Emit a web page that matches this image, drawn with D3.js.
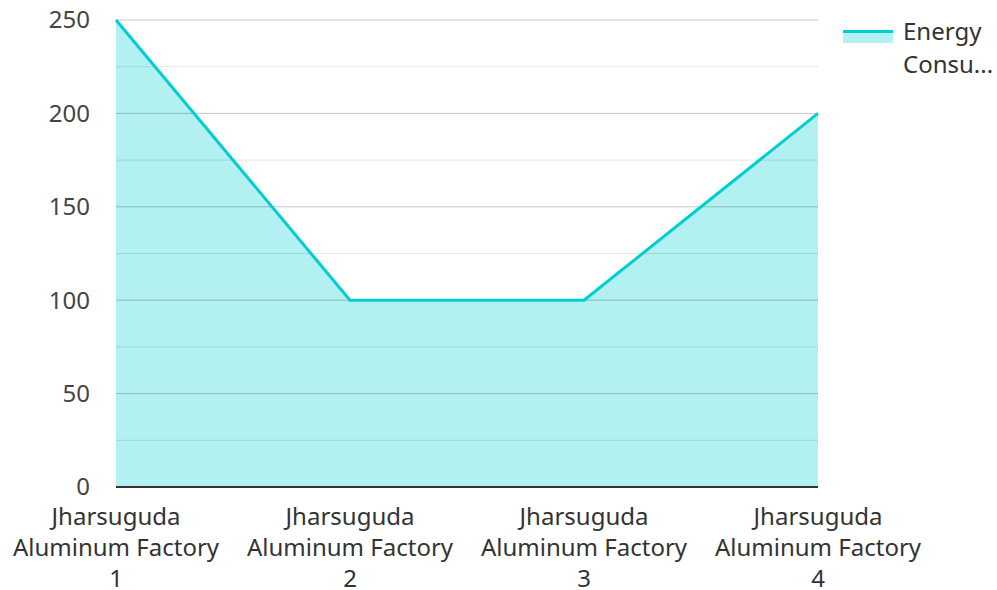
<!DOCTYPE html>
<html><head><meta charset="utf-8">
<script src="https://cdn.jsdelivr.net/npm/d3@7"></script>
<style>body{margin:0;background:#fff;font-family:"Noto Sans","Open Sans",sans-serif;}</style>
</head><body><svg id="c" width="997" height="590"></svg>
<script>
const categories = ["Jharsuguda Aluminum Factory 1","Jharsuguda Aluminum Factory 2","Jharsuguda Aluminum Factory 3","Jharsuguda Aluminum Factory 4"];
const categoryLines = [["Jharsuguda","Aluminum Factory","1"],["Jharsuguda","Aluminum Factory","2"],["Jharsuguda","Aluminum Factory","3"],["Jharsuguda","Aluminum Factory","4"]];
const values = [250, 100, 100, 200];
const yTicks = [0, 50, 100, 150, 200, 250];
const minorTicks = [25, 75, 125, 175, 225];
const seriesName = ["Energy", "Consu..."];

const svg = d3.select("#c");
const L = 116, R = 818, T = 20, B = 487;
const x = d3.scalePoint().domain(categories).range([L, R]);
const y = d3.scaleLinear().domain([0, 250]).range([B, T]);
const color = "#00CED1";
const FS = 24;

svg.append("path").datum(values)
  .attr("fill", color).attr("fill-opacity", 0.3)
  .attr("d", d3.area().x((d,i)=>x(categories[i])).y0(y(0)).y1(d=>y(d)));

svg.append("g").selectAll("line").data(minorTicks).join("line")
  .attr("x1", L).attr("x2", R).attr("y1", d=>y(d)).attr("y2", d=>y(d))
  .attr("stroke", "#000").attr("stroke-opacity", 0.1).attr("stroke-width", 1);
svg.append("g").selectAll("line").data(yTicks.filter(d=>d>0)).join("line")
  .attr("x1", L).attr("x2", R).attr("y1", d=>y(d)).attr("y2", d=>y(d))
  .attr("stroke", "#000").attr("stroke-opacity", 0.22).attr("stroke-width", 1);

svg.append("path").datum(values)
  .attr("fill", "none").attr("stroke", color).attr("stroke-width", 3)
  .attr("d", d3.line().x((d,i)=>x(categories[i])).y(d=>y(d)));

svg.append("line").attr("x1", L).attr("x2", R).attr("y1", y(0)).attr("y2", y(0))
  .attr("stroke", "#333").attr("stroke-width", 2);

svg.append("g").selectAll("text").data(yTicks).join("text")
  .attr("x", 90).attr("y", d=>y(d)).attr("dy", "0.35em")
  .attr("text-anchor", "end").attr("font-size", FS).attr("fill", "#444")
  .text(d=>d);

const xl = svg.append("g").selectAll("text").data(categories).join("text")
  .attr("text-anchor", "middle").attr("font-size", FS).attr("fill", "#333");
xl.each(function(d,i){
  const t = d3.select(this);
  categoryLines[i].forEach((s,j)=>{
    t.append("tspan").attr("x", x(d)).attr("y", 525 + j*31).text(s);
  });
});

svg.append("rect").attr("x", 843).attr("y", 30).attr("width", 50).attr("height", 13)
  .attr("fill", color).attr("fill-opacity", 0.3);
svg.append("line").attr("x1", 843).attr("x2", 893).attr("y1", 31.5).attr("y2", 31.5)
  .attr("stroke", color).attr("stroke-width", 3);
svg.append("g").selectAll("text").data(seriesName).join("text")
  .attr("x", 903).attr("y", (d,i)=>40 + i*33).attr("font-size", FS).attr("fill", "#333")
  .text(d=>d);
</script></body></html>
